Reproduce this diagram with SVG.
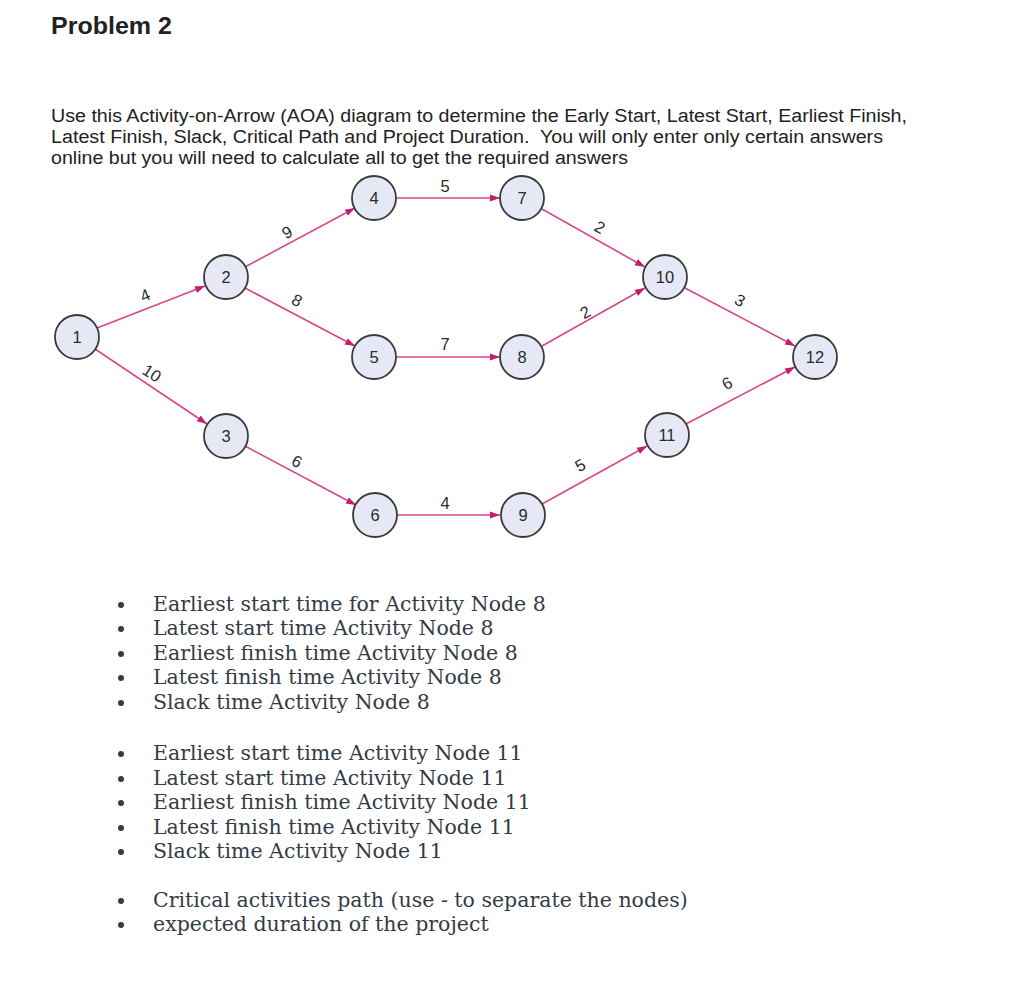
<svg xmlns="http://www.w3.org/2000/svg" width="1024" height="991" viewBox="0 0 1024 991">
<style>
.title{font-family:"Liberation Sans",Arial,sans-serif;font-size:23px;font-weight:bold;fill:#222}
.para{font-family:"Liberation Sans",Arial,sans-serif;font-size:18px;fill:#222}
.node circle{fill:#e6e9f5;stroke:#3a3a3a;stroke-width:1.8}
.node text{font-family:"Liberation Sans",Arial,sans-serif;font-size:16.5px;fill:#2a2a2a;text-anchor:middle;dominant-baseline:central}
.edge{stroke:#d8478b;stroke-width:1.6;fill:none;marker-end:url(#ah)}
.lbl{font-family:"Liberation Sans",Arial,sans-serif;font-size:16.5px;fill:#2a2a2a;text-anchor:middle;dominant-baseline:central}
.bul{font-family:"DejaVu Serif",serif;font-size:20.5px;fill:#343b46}
.dot{fill:#343b46}
</style>
<defs>
<marker id="ah" viewBox="0 0 10 10" refX="10" refY="5" markerWidth="10" markerHeight="10" markerUnits="userSpaceOnUse" orient="auto">
<path d="M0,1.5 L10,5 L0,8.5 Z" fill="#c51d6e"/>
</marker>
</defs>
<rect width="1024" height="991" fill="#fff"/>
<text class="title" x="51" y="34" textLength="121" lengthAdjust="spacingAndGlyphs">Problem 2</text>
<text class="para" x="51" y="122" textLength="856" lengthAdjust="spacingAndGlyphs">Use this Activity-on-Arrow (AOA) diagram to determine the Early Start, Latest Start, Earliest Finish,</text>
<text class="para" x="51" y="143" textLength="832" lengthAdjust="spacingAndGlyphs" xml:space="preserve">Latest Finish, Slack, Critical Path and Project Duration.  You will only enter only certain answers</text>
<text class="para" x="51" y="164" textLength="577" lengthAdjust="spacingAndGlyphs">online but you will need to calculate all to get the required answers</text>
<g id="connectors">
<line class="edge" x1="97" y1="328" x2="205" y2="286"/>
<line class="edge" x1="95" y1="349" x2="207" y2="424"/>
<line class="edge" x1="245" y1="267" x2="355" y2="208"/>
<line class="edge" x1="245" y1="288" x2="355" y2="346"/>
<line class="edge" x1="245" y1="446" x2="356" y2="505"/>
<line class="edge" x1="396" y1="198" x2="500" y2="198"/>
<line class="edge" x1="396" y1="357" x2="500" y2="357"/>
<line class="edge" x1="397" y1="515" x2="500" y2="515"/>
<line class="edge" x1="542" y1="209" x2="645" y2="267"/>
<line class="edge" x1="542" y1="346" x2="645" y2="288"/>
<line class="edge" x1="542" y1="504" x2="647" y2="446"/>
<line class="edge" x1="685" y1="288" x2="795" y2="346"/>
<line class="edge" x1="686" y1="424" x2="795" y2="367"/>
<text class="lbl" x="145" y="295" transform="rotate(-22 145 295)">4</text>
<text class="lbl" x="152" y="373" transform="rotate(33 152 373)">10</text>
<text class="lbl" x="287" y="232" transform="rotate(-28 287 232)">9</text>
<text class="lbl" x="297" y="300" transform="rotate(28 297 300)">8</text>
<text class="lbl" x="297" y="461" transform="rotate(28 297 461)">6</text>
<text class="lbl" x="445" y="186">5</text>
<text class="lbl" x="445" y="344">7</text>
<text class="lbl" x="445" y="503">4</text>
<text class="lbl" x="600" y="227" transform="rotate(29 600 227)">2</text>
<text class="lbl" x="585" y="312" transform="rotate(-29 585 312)">2</text>
<text class="lbl" x="580" y="465" transform="rotate(-29 580 465)">5</text>
<text class="lbl" x="740" y="300" transform="rotate(28 740 300)">3</text>
<text class="lbl" x="727" y="383" transform="rotate(-28 727 383)">6</text>
</g>
<g id="n1" class="node"><circle cx="77" cy="337" r="22"/><text x="77" y="337">1</text></g>
<g id="n2" class="node"><circle cx="226" cy="277" r="22"/><text x="226" y="277">2</text></g>
<g id="n3" class="node"><circle cx="226" cy="436" r="22"/><text x="226" y="436">3</text></g>
<g id="n4" class="node"><circle cx="374" cy="198" r="22"/><text x="374" y="198">4</text></g>
<g id="n5" class="node"><circle cx="374" cy="357" r="22"/><text x="374" y="357">5</text></g>
<g id="n6" class="node"><circle cx="375" cy="515" r="22"/><text x="375" y="515">6</text></g>
<g id="n7" class="node"><circle cx="522" cy="198" r="22"/><text x="522" y="198">7</text></g>
<g id="n8" class="node"><circle cx="522" cy="357" r="22"/><text x="522" y="357">8</text></g>
<g id="n9" class="node"><circle cx="523" cy="515" r="22"/><text x="523" y="515">9</text></g>
<g id="n10" class="node"><circle cx="665" cy="277" r="22"/><text x="665" y="277">10</text></g>
<g id="n11" class="node"><circle cx="667" cy="435" r="22"/><text x="667" y="435">11</text></g>
<g id="n12" class="node"><circle cx="815" cy="357" r="22"/><text x="815" y="357">12</text></g>
<g id="list">
<circle class="dot" cx="121" cy="605" r="3"/><text class="bul" x="153" y="611">Earliest start time for Activity Node 8</text>
<circle class="dot" cx="121" cy="629" r="3"/><text class="bul" x="153" y="635">Latest start time Activity Node 8</text>
<circle class="dot" cx="121" cy="654" r="3"/><text class="bul" x="153" y="660">Earliest finish time Activity Node 8</text>
<circle class="dot" cx="121" cy="678" r="3"/><text class="bul" x="153" y="684">Latest finish time Activity Node 8</text>
<circle class="dot" cx="121" cy="703" r="3"/><text class="bul" x="153" y="709">Slack time Activity Node 8</text>
<circle class="dot" cx="121" cy="754" r="3"/><text class="bul" x="153" y="760">Earliest start time Activity Node 11</text>
<circle class="dot" cx="121" cy="779" r="3"/><text class="bul" x="153" y="785">Latest start time Activity Node 11</text>
<circle class="dot" cx="121" cy="803" r="3"/><text class="bul" x="153" y="809">Earliest finish time Activity Node 11</text>
<circle class="dot" cx="121" cy="828" r="3"/><text class="bul" x="153" y="834">Latest finish time Activity Node 11</text>
<circle class="dot" cx="121" cy="852" r="3"/><text class="bul" x="153" y="858">Slack time Activity Node 11</text>
<circle class="dot" cx="121" cy="901" r="3"/><text class="bul" x="153" y="907">Critical activities path (use - to separate the nodes)</text>
<circle class="dot" cx="121" cy="925" r="3"/><text class="bul" x="153" y="931">expected duration of the project</text>
</g>
</svg>
